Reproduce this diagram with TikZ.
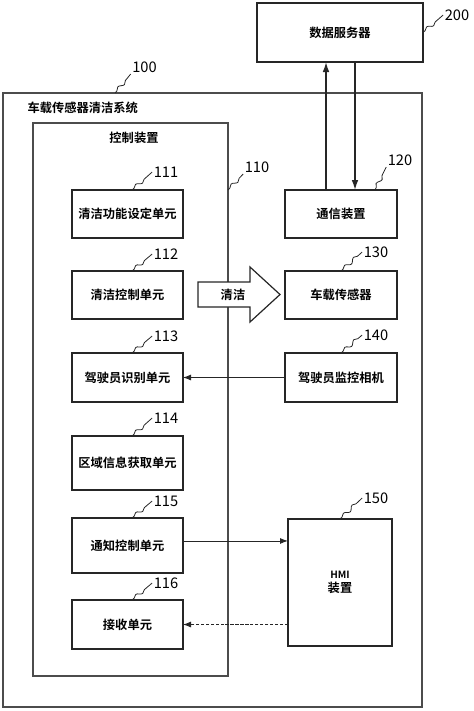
\documentclass[tikz,border=0pt]{standalone}
\usepackage{fontspec}
\usepackage{tikz}
\usetikzlibrary{arrows.meta,calc,positioning,decorations.pathmorphing}
\newfontfamily\cjk{Noto Sans CJK SC}[BoldFont={Noto Sans CJK SC Bold}]
\tikzset{
    unit/.style={draw=black!85, line width=0.9pt, minimum width=83.25pt, minimum height=36pt,
        inner sep=2pt, outer sep=0pt, align=center, font=\cjk\bfseries\fontsize{9.2}{11}\selectfont},
    frame/.style={draw=black!70, line width=0.9pt, outer sep=0pt},
    heading/.style={font=\cjk\bfseries\fontsize{9.2}{11}\selectfont, inner sep=1pt},
    reflabel/.style={font=\cjk\fontsize{11}{12}\selectfont, inner sep=1pt},
    squig/.style={black!85, line width=0.6pt, decorate,
        decoration={snake, amplitude=1.4pt, segment length=9pt, pre length=2pt, post length=4pt}},
    link/.style={black!85, line width=0.7pt, -{Latex[length=6pt,width=4.5pt]}},
    dlink/.style={link, dash pattern=on 2.5pt off 1.2pt},
    bus/.style={black!85, line width=1.1pt, -{Latex[length=7.5pt,width=5pt]}},
}

\begin{document}
\begin{tikzpicture}[x=0.75pt, y=-0.75pt]
    \useasboundingbox (0,0) rectangle (474,711);

    % SERVER
    \node[unit, minimum width=124.5pt, minimum height=44.25pt] (server) at (340,32.5) {数据服务器};
    \node[reflabel] (r200) at (457,15) {200};
    \draw[squig] (server.east) -- (r200.west);

    % SYSTEM FRAME
    \node[frame, minimum width=314.25pt, minimum height=460.5pt] (sys) at (212.5,400) {};
    \node[heading, anchor=west] (systitle) at (26,108) {车载传感器清洁系统};
    \node[reflabel] (r100) at (144.5,67) {100};
    \draw[squig] ([xshift=-73pt]sys.north) -- (r100.south west);

    % CONTROL FRAME
    \node[frame, minimum width=146.25pt, minimum height=414.75pt] (ctrl) at (130.5,399.5) {};
    \node[heading] (ctrltitle) at (134,138) {控制装置};

    % LEFT: units of the control device
    \node[unit] (u111) at (127.5,214) {清洁功能设定单元};
    \node[unit] (u112) at (127.5,295) {清洁控制单元};
    \node[unit, minimum height=36.75pt] (u113) at (127.5,377.5) {驾驶员识别单元};
    \node[unit, minimum height=40.5pt] (u114) at (127.5,463) {区域信息获取单元};
    \node[unit, minimum height=41.25pt] (u115) at (127.5,545.5) {通知控制单元};
    \node[unit, minimum height=36.75pt] (u116) at (127.5,624.5) {接收单元};

    % RIGHT: devices
    \node[unit, minimum width=84pt] (u120) at (341,214) {通信装置};
    \node[unit, minimum width=84pt] (u130) at (341,295) {车载传感器};
    \node[unit, minimum width=84pt, minimum height=36.75pt] (u140) at (341,377.5) {驾驶员监控相机};
    \node[unit, minimum width=78pt, minimum height=95.25pt] (hmi) at (340,582.5)
        {{\fontsize{7.5}{8}\selectfont HMI}\\[-1pt]装置};

    % REFERENCE NUMERALS
    \node[reflabel] (r110) at (257,167) {110};
    \draw[squig] (ctrl.east |- u111.north) -- (r110.south west);
    \foreach \n/\y in {111/172, 112/254, 113/336, 114/418, 115/501, 116/583} {
        \node[reflabel] (r\n) at (166,\y) {\n};
        \draw[squig] ([xshift=3.4pt]u\n.north) -- (r\n.west);
    }
    \node[reflabel] (r120) at (400,160) {120};
    \draw[squig] ([xshift=25.5pt]u120.north) -- (r120.south west);
    \node[reflabel] (r130) at (376,252) {130};
    \draw[squig] (u130.north) -- (r130.west);
    \node[reflabel] (r140) at (376,335) {140};
    \draw[squig] (u140.north) -- (r140.west);
    \node[reflabel] (r150) at (376,498) {150};
    \draw[squig] (hmi.north) -- (r150.west);

    % CONNECTORS
    \draw[bus] ([xshift=-11.25pt]u120.north) -- ([xshift=-11.25pt]u120.north |- server.south);
    \draw[bus] ([xshift=10.5pt]u120.north |- server.south) -- ([xshift=10.5pt]u120.north);
    \draw[link] (u140.west) -- (u113.east);
    \draw[link] ([yshift=3.4pt]u115.east) -- ([yshift=3.4pt]u115.east -| hmi.west);
    \draw[dlink] (hmi.west |- u116.east) -- (u116.east);

    % BLOCK ARROW: cleaning
    \draw[black!85, line width=0.9pt, fill=white]
        (198,282) -- (250,282) -- (250,267) -- (280,294.5) -- (250,322) -- (250,307) -- (198,307) -- cycle;
    \node[heading] (clean) at (233,295) {清洁};
\end{tikzpicture}
\end{document}
